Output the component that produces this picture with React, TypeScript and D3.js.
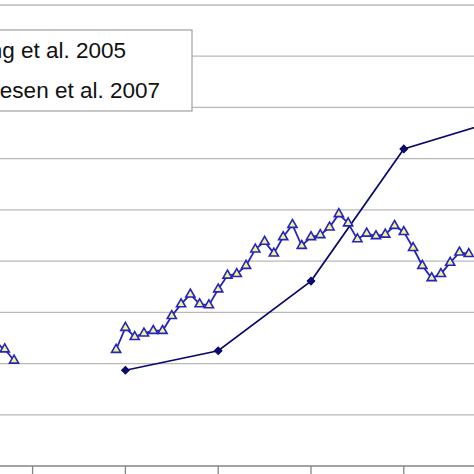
import React from 'react';
import * as d3 from 'd3';

const W = 474;
const H = 474;

const xTicks = [0, 10, 20, 30, 40];
const gridValues = [0, 1, 2, 3, 4, 5, 6, 7, 8, 9];

const triangleX = [
  -4, -3, -2,
  9, 10, 11, 12, 13, 14, 15, 16, 17, 18, 19, 20, 21, 22, 23, 24, 25, 26, 27, 28,
  29, 30, 31, 32, 33, 34, 35, 36, 37, 38, 39, 40, 41, 42, 43, 44, 45, 46, 47,
];
const triangleY = [
  2.40, 2.28, 2.06,
  2.27, 2.70, 2.52, 2.59, 2.64, 2.64, 2.93, 3.16, 3.35, 3.16, 3.14, 3.45, 3.72, 3.75,
  3.91, 4.23, 4.38, 4.15, 4.47, 4.71, 4.30, 4.47, 4.51, 4.66, 4.92, 4.74, 4.43, 4.54,
  4.49, 4.52, 4.69, 4.57, 4.26, 3.91, 3.67, 3.75, 3.97, 4.17, 4.14,
];

const diamondX = [10, 20, 30, 40, 50];
const diamondY = [1.87, 2.25, 3.61, 6.19, 6.74];

const legendLabels = ['Wang et al. 2005', 'Friesen et al. 2007'];

export default function App() {
  const x = d3.scaleLinear().domain([0, 40]).range([32.6, 403.8]);
  const y = d3.scaleLinear().domain([0, 9]).range([466, 5]);

  const triPoints = triangleX.map((v, i) => ({ x: v, y: triangleY[i] }));
  const triLine = d3
    .line<{ x: number; y: number }>()
    .x((d) => x(d.x))
    .y((d) => y(d.y));
  const segments: { x: number; y: number }[][] = [];
  triPoints.forEach((p, i) => {
    if (i === 0 || p.x - triPoints[i - 1].x > 1) segments.push([p]);
    else segments[segments.length - 1].push(p);
  });

  const diaPoints = diamondX.map((v, i) => ({ x: v, y: diamondY[i] }));

  const tri = d3.symbol().type(d3.symbolTriangle).size(36)();
  const dia = d3.symbol().type(d3.symbolSquare).size(30)();

  return (
    <svg
      width={W}
      height={H}
      style={{ position: 'absolute', left: 0, top: 0, background: '#fff' }}
    >
      <rect x={0} y={0} width={W} height={H} fill="#fff" />
      {gridValues.slice(1).map((g) => (
        <line
          key={g}
          x1={0}
          x2={W}
          y1={y(g)}
          y2={y(g)}
          stroke="#b8b8b8"
          strokeWidth={1.3}
        />
      ))}
      <line x1={0} x2={W} y1={y(0)} y2={y(0)} stroke="#858585" strokeWidth={1.6} />
      {xTicks.map((t) => (
        <line
          key={t}
          x1={x(t)}
          x2={x(t)}
          y1={y(0)}
          y2={H}
          stroke="#858585"
          strokeWidth={1.3}
        />
      ))}

      {segments.map((seg, i) => (
        <path
          key={i}
          d={triLine(seg) || ''}
          fill="none"
          stroke="#2424c0"
          strokeWidth={1.8}
        />
      ))}
      <path
        d={triLine(diaPoints) || ''}
        fill="none"
        stroke="#0a0a6e"
        strokeWidth={1.7}
      />
      {triPoints.map((p, i) => (
        <path
          key={i}
          d={tri || ''}
          transform={`translate(${x(p.x)},${y(p.y)})`}
          fill="#f4f48a"
          stroke="#2424c0"
          strokeWidth={1.6}
        />
      ))}
      {diaPoints.map((p, i) => (
        <path
          key={i}
          d={dia || ''}
          transform={`translate(${x(p.x)},${y(p.y)}) rotate(45)`}
          fill="#0a0a6e"
          stroke="#0a0a6e"
          strokeWidth={1}
        />
      ))}

      <rect
        x={-60}
        y={30}
        width={252}
        height={81}
        fill="#fff"
        stroke="#a0a0a0"
        strokeWidth={1.2}
      />
      <text
        x={126}
        y={58}
        textAnchor="end"
        fontFamily="'Liberation Sans', Arial, sans-serif"
        fontSize={22.5}
        fill="#111"
      >
        {legendLabels[0]}
      </text>
      <text
        x={160}
        y={98}
        textAnchor="end"
        fontFamily="'Liberation Sans', Arial, sans-serif"
        fontSize={22.5}
        fill="#111"
      >
        {legendLabels[1]}
      </text>
    </svg>
  );
}
